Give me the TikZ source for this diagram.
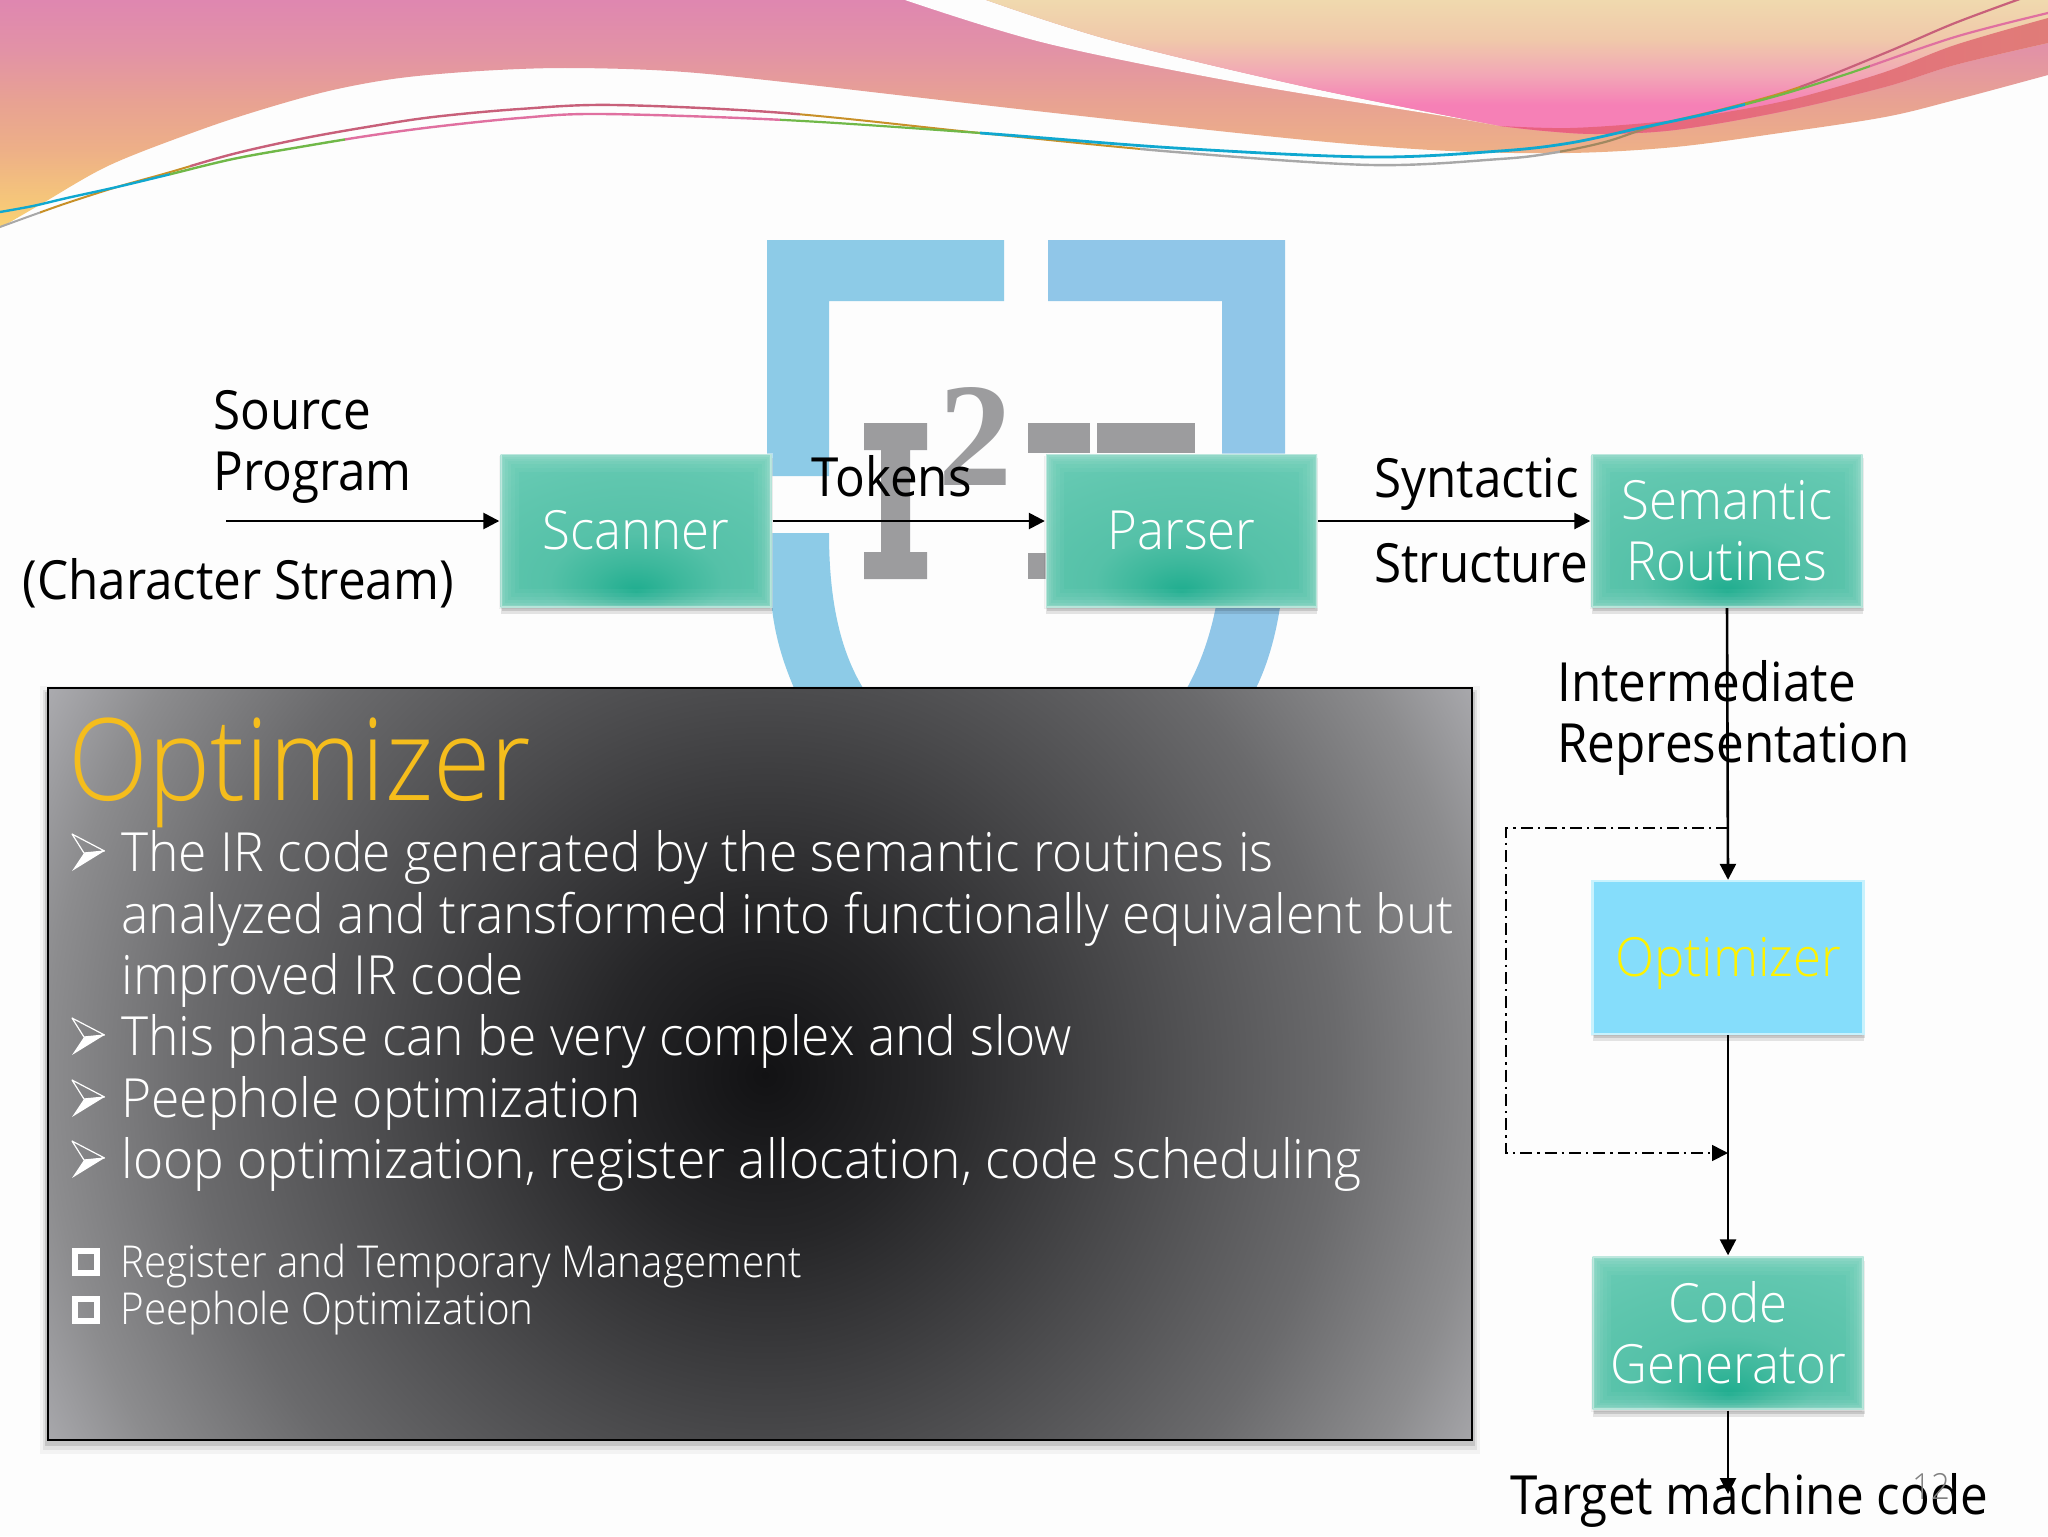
\documentclass[tikz,border=0pt]{standalone}
\usepackage{fontspec}
\setmainfont{Open Sans}[FakeStretch=0.915]
\newfontfamily\bodyf{Open Sans Light}[FakeStretch=0.955]
\newfontfamily\smallf{Open Sans Light}[FakeStretch=0.917]
\newfontfamily\boxf{Open Sans Light}[FakeStretch=0.945]
\newfontfamily\logof{Liberation Serif}
\usetikzlibrary{arrows.meta}
\definecolor{bgc}{HTML}{FDFDFD}
\definecolor{tA}{HTML}{1FAD8F}\definecolor{tAB}{HTML}{3DB89C}\definecolor{tB}{HTML}{55C1A8}\definecolor{tC}{HTML}{5FC6AE}\definecolor{tCD}{HTML}{6ACCB6}\definecolor{tD}{HTML}{9CDFD0}
\definecolor{pA}{HTML}{121214}\definecolor{pB}{HTML}{262628}\definecolor{pC}{HTML}{4A4A4C}\definecolor{pD}{HTML}{6A6A6C}\definecolor{pE}{HTML}{8C8C8E}\definecolor{pF}{HTML}{ABABAF}
\definecolor{sA}{HTML}{DF87B0}\definecolor{sB}{HTML}{E292A6}\definecolor{sC}{HTML}{E8A292}\definecolor{sD}{HTML}{EDAF88}\definecolor{sE}{HTML}{FAD272}
\definecolor{yA}{HTML}{F0D9AE}\definecolor{yB}{HTML}{F0C8AA}\definecolor{yC}{HTML}{F2A6B6}\definecolor{yD}{HTML}{F680B6}
\definecolor{logoL}{HTML}{8DCBE7}\definecolor{logoR}{HTML}{90C6E8}\definecolor{logoG}{HTML}{9C9C9E}
\definecolor{skyfill}{HTML}{85DDFB}\definecolor{skyrim}{HTML}{C8F2FD}\definecolor{gold}{HTML}{F5BD1C}
\definecolor{bandA}{HTML}{EA5F80}\definecolor{bandB}{HTML}{E07C78}
\definecolor{lnPink}{HTML}{E070A0}\definecolor{lnRed}{HTML}{C8607A}\definecolor{lnGreen}{HTML}{70B848}\definecolor{lnBlue}{HTML}{10A8D0}\definecolor{lnGray}{HTML}{A8A8A8}\definecolor{lnOr}{HTML}{C89028}\definecolor{lnBrown}{HTML}{A08860}
\pgfdeclareradialshading{boxglow}{\pgfpoint{0bp}{-20bp}}{color(0bp)=(tA);color(8bp)=(tAB);color(16bp)=(tB);color(30bp)=(tC);color(44bp)=(tCD);color(52bp)=(tD);color(100bp)=(tD)}
\pgfdeclareradialshading{panelglow}{\pgfpoint{0bp}{0bp}}{color(0bp)=(pA);color(5bp)=(pB);color(11.5bp)=(pC);color(17.5bp)=(pD);color(22bp)=(pE);color(25bp)=(pF);color(50bp)=(pF)}
\pgfdeclareverticalshading{swooshL}{100bp}{color(0bp)=(sE);color(25bp)=(sE);color(42.5bp)=(sD);color(52.5bp)=(sC);color(64bp)=(sB);color(75bp)=(sA);color(100bp)=(sA)}
\pgfdeclareverticalshading{swooshR}{100bp}{color(0bp)=(yD);color(36bp)=(yD);color(47bp)=(yC);color(60bp)=(yB);color(75bp)=(yA);color(100bp)=(yA)}
\def\curveA{plot[smooth,tension=.55] coordinates {(0,227) (33,215) (67,203) (117,187) (167,173) (233,154) (300,139) (367,127) (433,117) (520,109) (614,105) (784,113) (980,133) (1175,152) (1371,165) (1500,159) (1552,153) (1605,142) (1657,125) (1727,108) (1797,88) (1885,53) (1955,23) (2031,-5)}}
\def\curveB{plot[smooth,tension=.55] coordinates {(0,212) (33,206) (67,198) (117,187) (167,175) (233,159) (300,147) (367,136) (433,127) (520,118) (601,114) (784,120) (980,133) (1175,148) (1371,157) (1500,151) (1570,143) (1640,128) (1710,113) (1780,95) (1850,73) (1955,37) (2048,13)}}
\newcommand{\segline}[5]{\begin{scope}\clip (#1,-1) rectangle (#2,300);\draw[color=#3,line width=#4] #5;\end{scope}}
\newcommand{\rimstroke}[2]{\draw[white,opacity=#1,line width=#2] (path picture bounding box.south west) rectangle (path picture bounding box.north east);}
\tikzset{
 x=0.5pt,y=-0.5pt,
 softshadow/.style={preaction={fill=black,opacity=.10,transform canvas={yshift=-3.5pt}},preaction={fill=black,opacity=.12,transform canvas={yshift=-2pt,xshift=.5pt}},preaction={fill=black,opacity=.06,transform canvas={xshift=-1pt,yshift=-1pt}}},
 flowbox/.style={softshadow,rectangle,minimum width=135.5pt,minimum height=76.5pt,inner sep=0pt,align=center,text=white},
 innerrim/.style={path picture={\rimstroke{.04}{18pt}\rimstroke{.04}{14pt}\rimstroke{.05}{10pt}\rimstroke{.06}{7pt}\rimstroke{.07}{4.5pt}\rimstroke{.09}{2.5pt}}},
 tealbox/.style={flowbox,shade,shading=boxglow,innerrim,draw=white,draw opacity=.4,line width=1.2pt,font=\boxf\fontsize{27}{30.5}\selectfont},
 bluebox/.style={flowbox,fill=skyfill,draw=skyrim,line width=1.2pt,font=\boxf\fontsize{27}{30.5}\selectfont,text=yellow},
 lab/.style={anchor=base west,inner sep=0pt,text=black,font=\fontsize{27}{30.5}\selectfont},
 body/.style={anchor=base west,inner sep=0pt,text=white,font=\bodyf\fontsize{27}{30.5}\selectfont},
 small/.style={anchor=base west,inner sep=0pt,text=white,font=\smallf\fontsize{22}{25}\selectfont},
 flow/.style={line width=1.3pt,-{Triangle[length=8pt,width=8pt]}},
 loopline/.style={line width=.8pt,dash pattern=on 6pt off 2.5pt on 1.2pt off 2.5pt},
 sq/.style={draw=white,line width=3pt,rectangle,minimum size=11pt,inner sep=0pt},
 bul/.pic={\draw[white,line width=.6pt,line join=round] (0,-37) -- (32.5,-20) -- (12,-18) -- cycle;
           \fill[white] (12,-18) -- (32.5,-20) -- (0,0) -- cycle;}
}
\begin{document}
\begin{tikzpicture}
\useasboundingbox (0,0) rectangle (2048,1536);
\fill[bgc] (0,0) rectangle (2048,1536);
% swooshes
\shade[shading=swooshL] (0,0) -- plot[smooth,tension=.55] coordinates {(0,228) (43,203) (110,165) (200,130) (267,108) (333,90) (400,78) (480,71) (565,68) (670,71) (784,82) (1045,112) (1306,140) (1450,151) (1570,153) (1675,147) (1780,133) (1885,117) (1955,100) (2048,75)} -- (2048,0) -- cycle;
\fill[bgc] plot[smooth,tension=.55] coordinates {(905,0) (1045,43) (1241,83) (1437,115) (1500,126)} -- plot[smooth,tension=.55] coordinates {(1500,126) (1306,87) (1110,40) (986,0)} -- cycle;
\shade[shading=swooshR] plot[smooth,tension=.55] coordinates {(986,0) (1110,40) (1306,87) (1500,126)} -- plot[smooth,tension=.55] coordinates {(1500,126) (1545,131) (1598,134) (1675,130) (1780,112) (1885,87) (1955,65) (2048,43)} -- (2048,0) -- cycle;
\shade[left color=bandA,right color=bandB] plot[smooth,tension=.55] coordinates {(1500,126) (1545,131) (1598,134) (1675,130) (1780,112) (1885,87) (1955,65) (2048,43)} -- plot[smooth,tension=.55] coordinates {(2048,18) (1955,45) (1885,72) (1797,98) (1727,112) (1657,122) (1570,128) (1500,126)} -- cycle;
% thin lines
\segline{0}{40}{lnGray}{1pt}{\curveA}
\segline{40}{190}{lnOr}{1pt}{\curveA}
\segline{190}{800}{lnRed}{1.2pt}{\curveA}
\segline{800}{1140}{lnOr}{1pt}{\curveA}
\segline{1140}{1560}{lnGray}{1.2pt}{\curveA}
\segline{1560}{1660}{lnBrown}{1.1pt}{\curveA}
\segline{1660}{1800}{lnOr}{1pt}{\curveA}
\segline{1800}{2048}{lnRed}{1.1pt}{\curveA}
\segline{0}{170}{lnBlue}{1.2pt}{\curveB}
\segline{170}{345}{lnGreen}{1.2pt}{\curveB}
\segline{345}{780}{lnPink}{1.2pt}{\curveB}
\segline{780}{980}{lnGreen}{1.1pt}{\curveB}
\segline{980}{1745}{lnBlue}{1.4pt}{\curveB}
\segline{1745}{1870}{lnGreen}{1.1pt}{\curveB}
\segline{1870}{2048}{lnPink}{1.1pt}{\curveB}
% logo
\fill[logoL] (767,240) -- (1004,240) -- (1004,301) -- (829,301) -- (829,476) -- (767,476) -- cycle;
\fill[logoL] (771,533) -- (829,533) .. controls (829,600) and (840,650) .. (863,688) -- (794,688) .. controls (780,655) and (774,630) .. (771,600) -- cycle;
\fill[logoR] (1048,240) -- (1285,240) -- (1285,540) .. controls (1285,610) and (1270,660) .. (1256,688) -- (1187,688) .. controls (1208,650) and (1222,600) .. (1222,540) -- (1222,301) -- (1048,301) -- cycle;
\fill[logoG] (864,423) -- (927,423) -- (927,450) -- (910,450) -- (910,552) -- (927,552) -- (927,579) -- (864,579) -- (864,552) -- (881,552) -- (881,450) -- (864,450) -- cycle;
\fill[logoG] (1028,423) -- (1090,423) -- (1090,453) -- (1028,453) -- cycle;
\fill[logoG] (1097,423) -- (1195,423) -- (1195,453) -- (1097,453) -- cycle;
\fill[logoG] (1028,553) -- (1046,553) -- (1046,579) -- (1028,579) -- cycle;
\node[anchor=base,inner sep=0pt,text=logoG,font=\logof\bfseries\fontsize{74}{74}\selectfont] (logotwo) at (975,485) {2};
% boxes
\node[tealbox] (scan) at (636,530.5) {Scanner};
\node[tealbox] (parse) at (1181.5,530.5) {Parser};
\node[tealbox] (sem) at (1727,530.5) {Semantic\\Routines};
\node[bluebox] (opt) at (1728,957.5) {\raisebox{-9.5pt}[0pt][0pt]{Optimizer}};
\node[tealbox] (gen) at (1728,1333) {Code\\Generator};
% panel
\fill[black,opacity=.04] (40,686) rectangle (1480,1454);
\fill[black,opacity=.07] (43,690) rectangle (1477,1450);
\fill[black,opacity=.12] (45,692) rectangle (1475,1446);
\begin{scope}
\clip (48,688) rectangle (1472,1440);
\shade[shading=panelglow] (765,1075) circle (815);
\end{scope}
\node[draw=black,line width=1pt,rectangle,minimum width=712pt,minimum height=376pt,inner sep=0pt] (panel) at (760,1064) {};
% panel text
\node[anchor=base west,inner sep=0pt,text=gold,font=\smallf\fontsize{57}{60}\selectfont] (title) at (68,800) {Optimizer};
\pic at (72,871) {bul};
\node[body] (t1) at (121,871) {The IR code generated by the semantic routines is};
\node[body] (t2) at (121,933) {analyzed and transformed into functionally equivalent but};
\node[body] (t3) at (121,994) {improved IR code};
\pic at (72,1055) {bul};
\node[body] (t4) at (121,1055) {This phase can be very complex and slow};
\pic at (72,1117) {bul};
\node[body] (t5) at (121,1117) {Peephole optimization};
\pic at (72,1178) {bul};
\node[body] (t6) at (121,1178) {loop optimization, register allocation, code scheduling};
\node[sq] (s1) at (86,1262) {};
\node[sq] (s2) at (86,1309.5) {};
\node[small] (t7) at (120,1277) {Register and Temporary Management};
\node[small] (t8) at (120,1324) {Peephole Optimization};
% labels
\node[lab] (l1) at (213,429) {Source};
\node[lab] (l2) at (213,490) {Program};
\node[lab] (l3) at (22,599) {(Character Stream)};
\node[lab] (l4) at (811,496) {Tokens};
\node[lab] (l5) at (1374,497) {Syntactic};
\node[lab] (l6) at (1374,582) {Structure};
\node[lab] (l7) at (1557,701) {Intermediate};
\node[lab] (l8) at (1557,762) {Representation};
% connectors
\coordinate (src) at (226,521);
\coordinate (loopa) at (1728,828);
\coordinate (loopb) at (1506,828);
\coordinate (loopc) at (1506,1153);
\coordinate (loopd) at (1728,1153);
\coordinate (tgt) at (1728,1494);
\draw[flow] (src) -- (src -| scan.west);
\draw[flow] (src -| scan.east) -- (src -| parse.west);
\draw[flow] (src -| parse.east) -- (src -| sem.west);
\draw[flow] (sem.south) -- (opt.north);
\draw[flow] (opt.south) -- (gen.north);
\draw[flow] (gen.south) -- (tgt);
\draw[loopline,-{Triangle[length=8pt,width=8pt]}] (loopa) -- (loopb) -- (loopc) -- (loopd);
\node[lab] (l9) at (1510,1514) {Target machine code};
\node[anchor=center,inner sep=0pt,text=gray,font=\smallf\fontsize{18}{20}\selectfont] (pg) at (1931,1486) {12};
\end{tikzpicture}
\end{document}
